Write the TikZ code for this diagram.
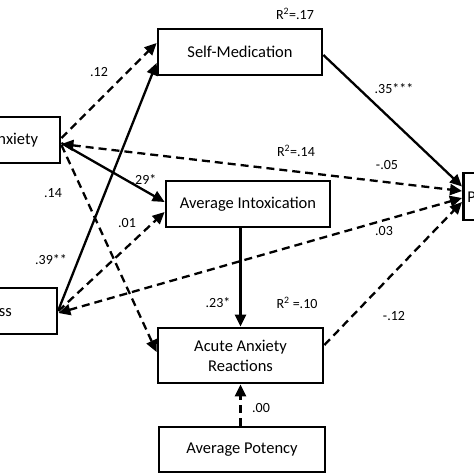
\documentclass[tikz,border=0pt]{standalone}
\usepackage{fontspec}
\setmainfont{Carlito}
\usetikzlibrary{arrows.meta}
\begin{document}
\begin{tikzpicture}[x=1pt,y=-1pt,
  box/.style={draw, line width=2.8pt, inner sep=0pt, font=\fontsize{16.5}{20}\selectfont, align=center},
  conn/.style={line width=2.3pt},
  dsh/.style={conn, dash pattern=on 8pt off 5pt},
  tip/.style={-{Triangle[length=12pt,width=11pt]}},
  tips/.style={{Triangle[length=12pt,width=11pt]}-{Triangle[length=12pt,width=11pt]}},
  lbl/.style={font=\fontsize{14}{16}\selectfont, inner sep=0pt}]
\useasboundingbox (0,0) rectangle (474,474);
\clip (0,0) rectangle (474,474);
% nodes
\node[box, minimum width=94pt, minimum height=46pt] (anx) at (13,140) {Anxiety};
\node[box, minimum width=130pt, minimum height=46pt] (str) at (-8,311) {Stress};
\node[box, minimum width=164pt, minimum height=46pt] (sm) at (240,52) {Self-Medication};
\node[box, minimum width=164pt, minimum height=46pt] (ai) at (248,204) {Average Intoxication};
\node[box, minimum width=165pt, minimum height=55pt] (aar) at (240.5,355.5) {Acute Anxiety\\Reactions};
\node[box, minimum width=166pt, minimum height=45pt] (pot) at (242,449.5) {Average Potency};
\node[box, minimum height=47pt, anchor=west, inner xsep=4pt] (out) at (462,196.5) {Panic};
% connectors
\draw[dsh, tip] ([yshift=2pt]anx.east) -- ([yshift=9pt]sm.west);
\draw[conn, tip] ([yshift=1pt]str.east) -- ([yshift=-11pt]sm.west);
\draw[dsh, tip] (str.east) -- ([yshift=-8pt]ai.west);
\draw[dsh, tips] ([yshift=-2pt]str.east) -- ([yshift=-1.5pt]out.west);
\draw[conn, tip] ([yshift=-3pt]anx.east) -- ([yshift=2pt]ai.west);
\draw[dsh, tip] ([yshift=-5pt]anx.east) -- ([yshift=3.5pt]aar.west);
\draw[dsh, tips] ([yshift=-4pt]anx.east) -- ([yshift=5.5pt]out.west);
\draw[conn, tip] ([yshift=-3pt]sm.east) -- ([yshift=10pt]out.west);
\draw[conn, tip] (ai.south -| aar.north) -- (aar.north);
\draw[dsh, tip] ([yshift=10.5pt]aar.east) -- ([yshift=-5.5pt]out.west);
\draw[dsh, tip] (pot.north -| aar.south) -- (aar.south);
% labels
\node[lbl] (r17) at (295,14) {R\textsuperscript{2}=.17};
\node[lbl] (l12) at (99,72) {.12};
\node[lbl] (l35) at (394,89) {.35***};
\node[lbl] (r14) at (296,151) {R\textsuperscript{2}=.14};
\node[lbl] (l05) at (387,165) {-.05};
\node[lbl] (l29) at (144,180) {.29*};
\node[lbl] (l14) at (53,193) {.14};
\node[lbl] (l01) at (127,223) {.01};
\node[lbl] (l03) at (384,231) {.03};
\node[lbl] (l39) at (51,260) {.39**};
\node[lbl] (l23) at (218,303) {.23*};
\node[lbl] (r10) at (297,303) {R\textsuperscript{2} =.10};
\node[lbl] (l12b) at (394,316) {-.12};
\node[lbl] (l00) at (261,408) {.00};
\end{tikzpicture}
\end{document}
